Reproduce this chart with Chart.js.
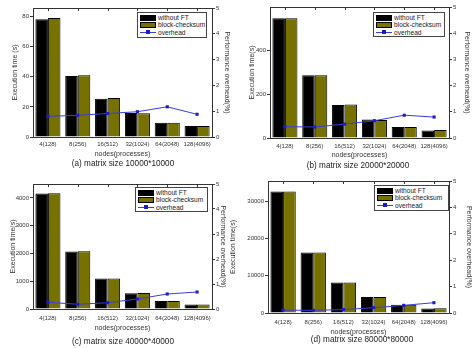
<!DOCTYPE html>
<html>
<head>
<meta charset="UTF-8">
<title>FT overhead</title>
<script src="https://cdn.jsdelivr.net/npm/chart.js"></script>
<style>
  body {
    margin: 0;
    width: 474px;
    height: 348px;
    background: #fff;
    position: relative;
    overflow: hidden;
    font-family: "Liberation Sans", Arial, sans-serif;
  }
  .panel { position: absolute; }
  .caption {
    position: absolute;
    font-size: 8.2px;
    line-height: 10px;
    color: #222;
    white-space: nowrap;
    transform: translateX(-50%);
  }
  .legend {
    position: absolute;
    box-sizing: border-box;
    border: 1px solid #444;
    background: #fff;
    font-size: 6.6px;
    color: #222;
    padding: 1px 0 0 2px;
    overflow: hidden;
  }
  .legend .row { height: 7.3px; line-height: 7.3px; display: flex; align-items: center; }
  .legend .sw { width: 16px; height: 6px; border: 1px solid #000; box-sizing: border-box; margin-right: 2px; }
  .legend .ln { width: 16px; height: 6px; margin-right: 2px; position: relative; }
  .legend .ln:before { content: ""; position: absolute; left: 0; right: 0; top: 2.5px; height: 1px; background: #3b3be0; }
  .legend .ln:after { content: ""; position: absolute; left: 6px; top: 1px; width: 4px; height: 4px; background: #1c1cc8; }
</style>
</head>
<body>

<script>
  const nodes = ['4(128)', '8(256)', '16(512)', '32(1024)', '64(2048)', '128(4096)'];
  const seriesNames = ['without FT', 'block-checksum', 'overhead'];

  // (a) 10000*10000
  const noFtA = [78.2, 40.4, 25.3, 16.0, 9.4, 7.3];
  const checksumA = [78.9, 40.9, 25.8, 15.8, 9.4, 7.3];
  const overheadA = [0.80, 0.84, 0.91, 0.98, 1.17, 0.88];
  const ticksA = [0, 20, 40, 60, 80];

  // (b) 20000*20000
  const noFtB = [549, 288, 151, 85, 51, 34];
  const checksumB = [549, 288, 154, 83, 51, 37];
  const overheadB = [0.43, 0.42, 0.53, 0.66, 0.87, 0.80];
  const ticksB = [0, 200, 400];

  // (c) 40000*40000
  const noFtC = [4155, 2072, 1102, 563, 290, 160];
  const checksumC = [4165, 2082, 1102, 572, 290, 165];
  const overheadC = [0.27, 0.19, 0.25, 0.40, 0.60, 0.68];
  const ticksC = [0, 1000, 2000, 3000, 4000];

  // (d) 80000*80000
  const noFtD = [32700, 16300, 8200, 4320, 2200, 1200];
  const checksumD = [32700, 16300, 8200, 4320, 2250, 1250];
  const overheadD = [0.11, 0.10, 0.13, 0.20, 0.29, 0.39];
  const ticksD = [0, 10000, 20000, 30000];

  const overheadTicks = [0, 1, 2, 3, 4, 5];

  Chart.defaults.font.family = '"Liberation Sans", Arial, sans-serif';
  Chart.defaults.color = '#333';

  // box frame + inward ticks on top
  const framePlugin = {
    id: 'frame',
    afterDraw(chart) {
      const { ctx, chartArea: a, scales } = chart;
      ctx.save();
      ctx.strokeStyle = '#333';
      ctx.lineWidth = 1;
      ctx.strokeRect(Math.round(a.left) + 0.5, Math.round(a.top) + 0.5,
        Math.round(a.right - a.left), Math.round(a.bottom - a.top));
      ctx.beginPath();
      nodes.forEach((n, i) => {
        const x = Math.round(scales.x.getPixelForValue(i)) + 0.5;
        ctx.moveTo(x, a.top);
        ctx.lineTo(x, a.top + 3);
      });
      ctx.stroke();
      ctx.restore();
    }
  };

  function makePanel(p) {
    const div = document.createElement('div');
    div.className = 'panel';
    div.style.left = p.cx + 'px';
    div.style.top = p.cy + 'px';
    div.style.width = p.cw + 'px';
    div.style.height = p.ch + 'px';
    const cv = document.createElement('canvas');
    div.appendChild(cv);
    document.body.appendChild(div);

    const padLeft = p.ylt - 4.2 - p.cx;
    const padRight = (p.cx + p.cw) - (p.yrt + 4.2);
    const padTop = p.t - p.cy;
    const xBottom = p.xtY + 4.2;
    const padBottom = (p.cy + p.ch) - xBottom;

    new Chart(cv, {
      type: 'bar',
      data: {
        labels: nodes,
        datasets: [
          {
            type: 'line', label: seriesNames[2], data: p.ovh, yAxisID: 'y2',
            borderColor: '#3b3be0', backgroundColor: '#1c1cc8', borderWidth: 1,
            pointStyle: 'rect', pointRadius: 2.2, pointBorderWidth: 0, order: 0
          },
          {
            label: seriesNames[0], data: p.noFt, yAxisID: 'y',
            backgroundColor: '#000', borderColor: '#000', borderWidth: 1,
            categoryPercentage: 0.84, barPercentage: 1, order: 1
          },
          {
            label: seriesNames[1], data: p.cks, yAxisID: 'y',
            backgroundColor: '#777200', borderColor: '#000', borderWidth: 1,
            categoryPercentage: 0.84, barPercentage: 1, order: 1
          }
        ]
      },
      options: {
        responsive: true,
        maintainAspectRatio: false,
        animation: false,
        layout: { padding: { top: padTop, bottom: padBottom, left: padLeft, right: padRight } },
        plugins: { legend: { display: false }, tooltip: { enabled: false } },
        scales: {
          x: {
            grid: { display: false, drawTicks: false },
            border: { color: '#333' },
            ticks: { font: { size: 6 }, padding: p.tickY - p.b - 3.6, maxRotation: 0, autoSkip: false },
            title: { display: true, text: 'nodes(processes)', font: { size: 7 }, padding: 0 },
            afterFit: s => { s.height = xBottom - p.b; }
          },
          y: {
            position: 'left', min: 0, max: p.yMax,
            grid: { drawOnChartArea: false, tickLength: 3, color: '#333' },
            border: { color: '#333' },
            ticks: { font: { size: 6 }, padding: 1, callback: v => String(v) },
            afterBuildTicks: s => { s.ticks = p.yTicks.map(v => ({ value: v })); },
            title: { display: true, text: p.yTitle, font: { size: 7 }, padding: 0 },
            afterFit: s => { s.width = p.l - p.cx - padLeft; }
          },
          y2: {
            position: 'right', min: 0, max: 5,
            grid: { drawOnChartArea: false, tickLength: 3, color: '#333' },
            border: { color: '#333' },
            ticks: { font: { size: 6 }, padding: 1, callback: v => String(v) },
            afterBuildTicks: s => { s.ticks = overheadTicks.map(v => ({ value: v })); },
            title: { display: true, text: 'Performance overhead(%)', font: { size: 7 }, padding: 0 },
            afterFit: s => { s.width = (p.cx + p.cw) - padRight - p.r; }
          }
        }
      },
      plugins: [framePlugin]
    });

    const cap = document.createElement('div');
    cap.className = 'caption';
    cap.textContent = p.caption;
    cap.style.left = p.capX + 'px';
    cap.style.top = (p.capY - 5) + 'px';
    document.body.appendChild(cap);

    const lg = document.createElement('div');
    lg.className = 'legend';
    lg.style.left = p.lg[0] + 'px';
    lg.style.top = p.lg[1] + 'px';
    lg.style.width = p.lg[2] + 'px';
    lg.style.height = p.lg[3] + 'px';
    seriesNames.forEach((name, i) => {
      const row = document.createElement('div');
      row.className = 'row';
      const sw = document.createElement('span');
      if (i < 2) {
        sw.className = 'sw';
        sw.style.background = i === 0 ? '#000' : '#777200';
      } else {
        sw.className = 'ln';
      }
      row.appendChild(sw);
      row.appendChild(document.createTextNode(name));
      lg.appendChild(row);
    });
    document.body.appendChild(lg);
  }

  makePanel({
    cx: 0, cy: 0, cw: 237, ch: 174, l: 33, r: 212, t: 8, b: 137,
    ylt: 15, yrt: 227, tickY: 144.5, xtY: 154, capX: 123, capY: 164,
    noFt: noFtA, cks: checksumA, ovh: overheadA, yMax: 85.6, yTicks: ticksA,
    yTitle: 'Execution time (s)', caption: '(a) matrix size 10000*10000',
    lg: [137, 12, 70, 26]
  });
  makePanel({
    cx: 237, cy: 0, cw: 237, ch: 174, l: 270, r: 449, t: 7, b: 138,
    ylt: 252, yrt: 467, tickY: 146, xtY: 155, capX: 358, capY: 166,
    noFt: noFtB, cks: checksumB, ovh: overheadB, yMax: 601, yTicks: ticksB,
    yTitle: 'Execution time(s)', caption: '(b) matrix size 20000*20000',
    lg: [373, 12, 72, 25]
  });
  makePanel({
    cx: 0, cy: 174, cw: 237, ch: 174, l: 33, r: 212, t: 184, b: 309,
    ylt: 13, yrt: 223, tickY: 318, xtY: 328, capX: 123, capY: 342,
    noFt: noFtC, cks: checksumC, ovh: overheadC, yMax: 4500, yTicks: ticksC,
    yTitle: 'Execution time(s)', caption: '(c) matrix size 40000*40000',
    lg: [135, 187, 73, 25]
  });
  makePanel({
    cx: 228, cy: 174, cw: 246, ch: 174, l: 268, r: 449, t: 181, b: 313,
    ylt: 233, yrt: 469, tickY: 322, xtY: 332, capX: 362, capY: 340,
    noFt: noFtD, cks: checksumD, ovh: overheadD, yMax: 35500, yTicks: ticksD,
    yTitle: 'Execution time(s)', caption: '(d) matrix size 80000*80000',
    lg: [374, 185, 75, 26]
  });
</script>
</body>
</html>
